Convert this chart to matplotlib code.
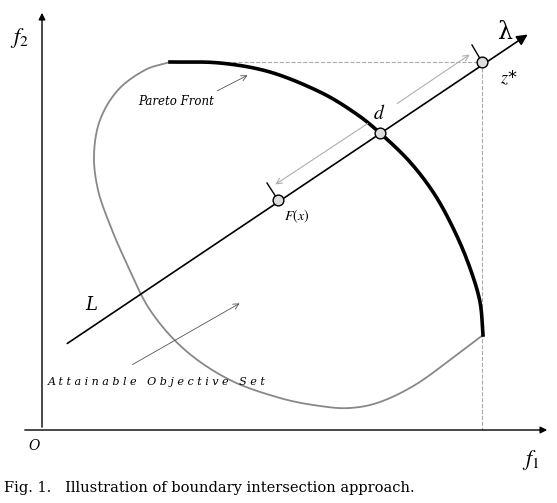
import matplotlib
matplotlib.use("Agg")
import matplotlib.pyplot as plt
import numpy as np

plt.rcParams["mathtext.fontset"] = "stix"

# Diagram geometry (pixel space of the reference, y downward)
front_x = [170, 220, 270, 320, 355, 380, 410, 435, 455, 470, 480, 483]
front_y = [62, 63, 72, 92, 113, 133, 162, 195, 232, 268, 302, 335]
bound_x = [170, 145, 118, 100, 94, 98, 110, 126, 150, 185, 230, 280, 320, 350, 380, 415, 450, 483]
bound_y = [62, 70, 90, 120, 155, 190, 225, 262, 310, 350, 380, 398, 406, 408, 402, 385, 360, 335]
line_start = (65, 345)
line_end = (530, 33)
pts_x = [278, 380, 482]
pts_y = [200, 133, 62]
pt_labels = ["F(x)", "d", "z*"]


def smooth(xs, ys, n=20):
    p = np.column_stack([xs, ys]).astype(float)
    p = np.vstack([2 * p[0] - p[1], p, 2 * p[-1] - p[-2]])
    out = []
    t = np.linspace(0, 1, n, endpoint=False)[:, None]
    for i in range(1, len(p) - 2):
        p0, p1, p2, p3 = p[i - 1], p[i], p[i + 1], p[i + 2]
        out.append(0.5 * ((2 * p1) + (-p0 + p2) * t + (2 * p0 - 5 * p1 + 4 * p2 - p3) * t**2
                          + (-p0 + 3 * p1 - 3 * p2 + p3) * t**3))
    out.append(p[-2][None, :])
    out = np.vstack(out)
    return out[:, 0], out[:, 1]


fig = plt.figure(figsize=(5.57, 5.03), dpi=100)
ax = fig.add_axes([0, 0, 1, 1])
ax.set_xlim(0, 557)
ax.set_ylim(503, 0)
ax.axis("off")

# axes
ax.annotate("", xy=(42, 10), xytext=(42, 430), arrowprops=dict(arrowstyle="-|>", color="black", lw=1.0, mutation_scale=10))
ax.annotate("", xy=(550, 430), xytext=(22, 430), arrowprops=dict(arrowstyle="-|>", color="black", lw=1.0, mutation_scale=10))
ax.text(10, 38, "$f_2$", fontsize=16, va="center")
ax.text(522, 460, "$f_1$", fontsize=16, va="center")
ax.text(28, 446, "O", fontsize=10, family="serif", style="italic", va="center")

# dashed guides
ax.plot([185, pts_x[2]], [62, 62], ls="--", color="#aaaaaa", lw=0.8)
ax.plot([pts_x[2], pts_x[2]], [62, 430], ls="--", color="#aaaaaa", lw=0.8)

# shapes
bx, by = smooth(bound_x, bound_y)
fx, fy = smooth(front_x, front_y)
ax.plot(bx, by, color="#888888", lw=1.3)
ax.plot(fx, fy, color="black", lw=2.6)

# line L
ax.annotate("", xy=line_end, xytext=line_start, arrowprops=dict(arrowstyle="-|>", color="black", lw=1.2, mutation_scale=16))
ax.text(85, 305, "L", fontsize=13, family="serif", style="italic", va="center")
ax.text(498, 32, "λ", fontsize=17, family="serif", va="center")

# ticks
ax.plot([278, 267], [200, 183], color="black", lw=1.0)
ax.plot([482, 472], [62, 45], color="black", lw=1.0)

# gray arrows
ax.annotate("", xy=(472, 53), xytext=(395, 105), arrowprops=dict(arrowstyle="->", color="#b0b0b0", lw=0.8))
ax.annotate("", xy=(273, 186), xytext=(370, 122), arrowprops=dict(arrowstyle="->", color="#b0b0b0", lw=0.8))

# points
ax.scatter(pts_x, pts_y, s=60, facecolor="#dddddd", edgecolor="black", lw=1.0, zorder=5)
ax.text(284, 216, "$F(x)$", fontsize=10, va="center")
ax.text(373, 113, "$d$", fontsize=14, va="center")
ax.text(500, 78, "$z$*", fontsize=13, va="center")

# labels
ax.text(138, 101, "Pareto Front", fontsize=8.5, family="serif", style="italic", va="center")
ax.annotate("", xy=(250, 74), xytext=(215, 92), arrowprops=dict(arrowstyle="->", color="#555555", lw=0.6))
ax.text(48, 382, "A t t a i n a b l e   O b j e c t i v e   S e t", fontsize=8, family="serif", style="italic", va="center")
ax.annotate("", xy=(242, 302), xytext=(130, 366), arrowprops=dict(arrowstyle="->", color="#555555", lw=0.6))

ax.text(4, 488, "Fig. 1.   Illustration of boundary intersection approach.", fontsize=10.5, family="serif", va="center")

fig.savefig("out.png", dpi=100)
